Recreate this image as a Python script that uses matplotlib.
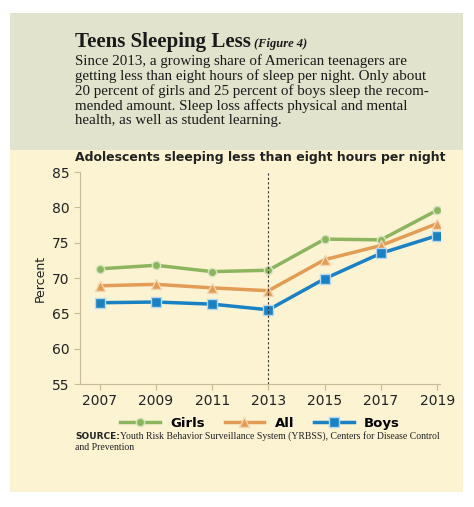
import matplotlib
matplotlib.use("Agg")
import matplotlib.pyplot as plt
from matplotlib.patches import Rectangle

years = ["2007", "2009", "2011", "2013", "2015", "2017", "2019"]
girls = [71.3, 71.8, 70.9, 71.1, 75.5, 75.4, 79.6]
all_ = [68.9, 69.1, 68.6, 68.2, 72.6, 74.6, 77.7]
boys = [66.5, 66.6, 66.3, 65.5, 69.9, 73.5, 76.0]
yticks = [55, 60, 65, 70, 75, 80, 85]

W, H = 474, 507
fig = plt.figure(figsize=(W/100, H/100), dpi=100)
fig.patch.set_facecolor("white")

def fx(x): return x / W
def fy(y): return 1 - y / H

fig.patches.append(Rectangle((fx(10), fy(150)), fx(453), (150-13)/H,
    transform=fig.transFigure, facecolor="#e1e3cc", edgecolor="none", zorder=-5))
fig.patches.append(Rectangle((fx(10), fy(492)), fx(453), (492-150)/H,
    transform=fig.transFigure, facecolor="#fcf3d2", edgecolor="none", zorder=-5))

fig.text(fx(75), fy(47), "Teens Sleeping Less", fontsize=15, fontweight="bold",
         family="Liberation Serif", color="#1a1a1a", va="baseline")
fig.text(fx(254), fy(47), "(Figure 4)", fontsize=9, style="italic", fontweight="bold",
         family="Liberation Serif", color="#1a1a1a", va="baseline")
body = ("Since 2013, a growing share of American teenagers are\n"
        "getting less than eight hours of sleep per night. Only about\n"
        "20 percent of girls and 25 percent of boys sleep the recom-\n"
        "mended amount. Sleep loss affects physical and mental\n"
        "health, as well as student learning.")
fig.text(fx(75), fy(54), body, fontsize=10.8, family="Liberation Serif",
         color="#1a1a1a", va="top", linespacing=1.12)

ax = fig.add_axes([fx(80), fy(384), fx(440-80), (384-172)/H])
ax.set_zorder(2)
ax.set_facecolor("none")
x = list(range(len(years)))
ax.plot(x, girls, color="#8db55f", marker="o", ms=6, lw=2.5, mec="#d7e6bf", mew=1, label="Girls")
ax.plot(x, all_, color="#e39c55", marker="^", ms=6.5, lw=2.5, mec="#f5d5b0", mew=1, label="All")
ax.plot(x, boys, color="#1a82c4", marker="s", ms=6.5, lw=2.5, mec="#b5d8f0", mew=1, label="Boys")
ax.axvline(3, color="#333333", ls=(0, (2, 2)), lw=0.8)
ax.set_ylim(55, 85)
ax.set_xlim(-0.35, 6.05)
ax.set_yticks(yticks)
ax.set_xticks(x)
ax.set_xticklabels(years)
for s in ["top", "right"]:
    ax.spines[s].set_visible(False)
for s in ["left", "bottom"]:
    ax.spines[s].set_color("#c8bc96")
ax.tick_params(colors="#c8bc96", labelcolor="#222222", labelsize=10, length=4)
ax.set_ylabel("Percent", fontsize=9, color="#222222")
ax.set_title("Adolescents sleeping less than eight hours per night", fontsize=9,
             fontweight="bold", color="#222222", pad=8)
leg = ax.legend(loc="upper center", bbox_to_anchor=(0.5, -0.1), ncol=3, frameon=False,
                fontsize=9.5, handlelength=3, columnspacing=1.5)
for t in leg.get_texts():
    t.set_fontweight("bold")

fig.text(fx(75), fy(432), "SOURCE:", fontsize=6.5, fontweight="bold", color="#222222", va="top")
fig.text(fx(120), fy(431), "Youth Risk Behavior Surveillance System (YRBSS), Centers for Disease Control",
         fontsize=7, family="Liberation Serif", color="#222222", va="top")
fig.text(fx(75), fy(443), "and Prevention", fontsize=7, family="Liberation Serif",
         color="#222222", va="top")

fig.savefig("out.png", dpi=100)
